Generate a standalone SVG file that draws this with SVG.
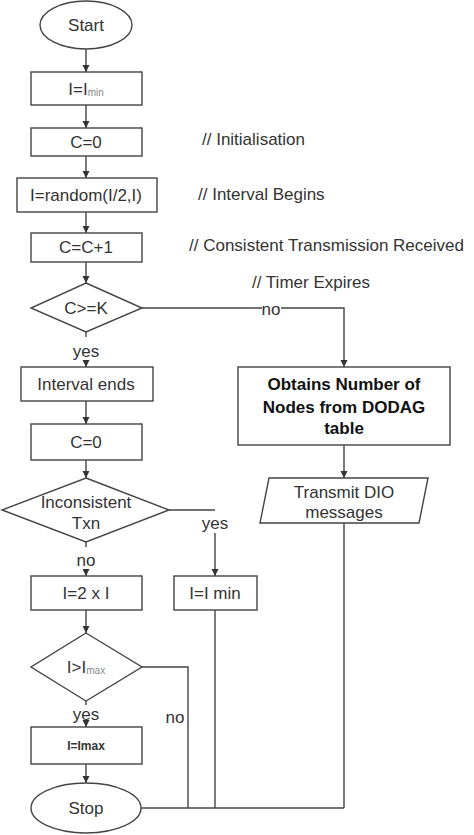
<svg xmlns="http://www.w3.org/2000/svg" width="474" height="835" viewBox="0 0 474 835">
<defs>
<marker id="ah" markerWidth="8" markerHeight="8" refX="7" refY="4" orient="auto" markerUnits="userSpaceOnUse">
<path d="M0,0.5 L7,4 L0,7.5 z" fill="#333"/>
</marker>
<style>
.s{fill:#fff;stroke:#444;stroke-width:1.4}
.c{fill:none;stroke:#444;stroke-width:1.4}
.t{font-family:"Liberation Sans",Arial,sans-serif;font-size:17px;fill:#333;text-anchor:middle;dominant-baseline:central}
.b{font-family:"Liberation Sans",Arial,sans-serif;font-size:17px;font-weight:bold;fill:#111;text-anchor:middle;dominant-baseline:central}
.sub{font-size:10px;fill:#888}
.cm{font-family:"Liberation Sans",Arial,sans-serif;font-size:17px;fill:#333;dominant-baseline:central}
</style>
</defs>
<rect width="474" height="835" fill="#fff"/>
<g id="connectors">
<path class="c" d="M86,49 V72" marker-end="url(#ah)"/>
<path class="c" d="M86,105 V128" marker-end="url(#ah)"/>
<path class="c" d="M86,156 V178" marker-end="url(#ah)"/>
<path class="c" d="M86,212 V233" marker-end="url(#ah)"/>
<path class="c" d="M86,262 V283" marker-end="url(#ah)"/>
<path class="c" d="M86,332 V337"/>
<path class="c" d="M86,360 V367" marker-end="url(#ah)"/>
<path class="c" d="M86,401 V424" marker-end="url(#ah)"/>
<path class="c" d="M86,460 V478" marker-end="url(#ah)"/>
<path class="c" d="M86,542 V547"/>
<path class="c" d="M86,569 V576" marker-end="url(#ah)"/>
<path class="c" d="M169,510 H215"/>
<path class="c" d="M215,533 V576" marker-end="url(#ah)"/>
<path class="c" d="M86,610 V633" marker-end="url(#ah)"/>
<path class="c" d="M86,701 V705"/>
<path class="c" d="M86,722 V727" marker-end="url(#ah)"/>
<path class="c" d="M86,764 V783" marker-end="url(#ah)"/>
<path class="c" d="M142,667 H188 V808"/>
<path class="c" d="M215,610 V808"/>
<path class="c" d="M141,808 H344"/>
<path class="c" d="M142,308 H262 M281,308 H344 V367" marker-end="url(#ah)"/>
<path class="c" d="M344,445 V478" marker-end="url(#ah)"/>
<path class="c" d="M344,523 V808"/>
<text class="t" x="271" y="309">no</text>
<text class="t" x="86" y="351">yes</text>
<text class="t" x="86" y="560">no</text>
<text class="t" x="215" y="523">yes</text>
<text class="t" x="86" y="714">yes</text>
<text class="t" x="175" y="717">no</text>
</g>
<g id="start"><ellipse class="s" cx="86" cy="25" rx="46" ry="24"/><text class="t" x="86" y="25">Start</text></g>
<g id="i-imin"><rect class="s" x="31" y="72" width="111" height="33"/><text class="t" x="86" y="89">I=I<tspan class="sub" dy="3">min</tspan></text></g>
<g id="c0a"><rect class="s" x="31" y="128" width="111" height="28"/><text class="t" x="86" y="142">C=0</text></g>
<g id="irandom"><rect class="s" x="17" y="178" width="140" height="34"/><text class="t" x="86" y="195">I=random(I/2,I)</text></g>
<g id="cc1"><rect class="s" x="31" y="233" width="111" height="29"/><text class="t" x="86" y="247.5">C=C+1</text></g>
<g id="cgek"><polygon class="s" points="86,283 142,308 86,332 31,308"/><text class="t" x="86" y="308">C&gt;=K</text></g>
<g id="interval-ends"><rect class="s" x="21" y="367" width="132" height="34"/><text class="t" x="86" y="384">Interval ends</text></g>
<g id="c0b"><rect class="s" x="31" y="424" width="111" height="36"/><text class="t" x="86" y="442">C=0</text></g>
<g id="inconsistent"><polygon class="s" points="86,478 169,510 86,542 2,510"/><text class="t" x="86" y="502">Inconsistent</text><text class="t" x="86" y="523">Txn</text></g>
<g id="i2xi"><rect class="s" x="31" y="576" width="111" height="34"/><text class="t" x="86" y="593">I=2 x I</text></g>
<g id="i-imin2"><rect class="s" x="174" y="576" width="83" height="34"/><text class="t" x="215" y="593">I=I min</text></g>
<g id="igtimax"><polygon class="s" points="86,633 142,667 86,701 31,667"/><text class="t" x="86" y="667">I&gt;I<tspan class="sub" dy="3">max</tspan></text></g>
<g id="i-imax"><rect class="s" x="31" y="727" width="111" height="37"/><text class="t" x="86" y="745.5" style="font-size:12px;font-weight:bold">I=Imax</text></g>
<g id="stop"><ellipse class="s" cx="86" cy="808" rx="55" ry="25"/><text class="t" x="86" y="808">Stop</text></g>
<g id="obtains"><rect class="s" x="238" y="367" width="212" height="78"/><text class="b" x="344" y="384">Obtains Number of</text><text class="b" x="344" y="407">Nodes from DODAG</text><text class="b" x="344" y="428">table</text></g>
<g id="transmit"><polygon class="s" points="269,478 428,478 419,523 260,523"/><text class="t" x="344" y="492">Transmit DIO</text><text class="t" x="344" y="512">messages</text></g>
<g id="comments">
<text class="cm" x="202" y="139">// Initialisation</text>
<text class="cm" x="198" y="194">// Interval Begins</text>
<text class="cm" x="189" y="245">// Consistent Transmission Received</text>
<text class="cm" x="252" y="282">// Timer Expires</text>
</g>
</svg>
